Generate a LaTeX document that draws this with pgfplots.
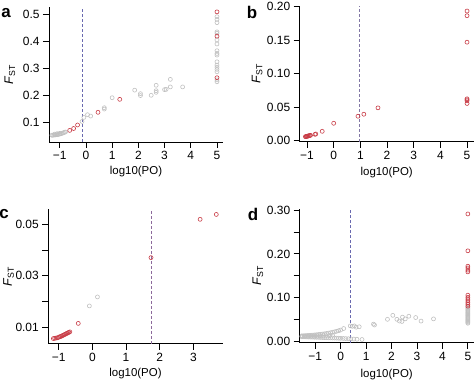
\documentclass[border=0pt]{standalone}
\usepackage{fontspec}
\setmainfont{Liberation Sans}
\usepackage{pgfplots}
\pgfplotsset{compat=1.18}
\definecolor{ptgray}{RGB}{192,192,192}
\definecolor{ptred}{RGB}{200,60,70}
\definecolor{dashcol}{RGB}{105,105,175}
\definecolor{dashcolb}{RGB}{130,120,165}
\definecolor{dashcolc}{RGB}{140,105,155}
\pgfplotsset{
  panel/.style={
    scale only axis, anchor=south west,
    axis lines*=left,
    axis line style={line width=0.8pt, black},
    tick align=outside, major tick length=6bp,
    every tick/.style={line width=0.8pt, black},
    tick label style={font=\fontsize{12}{14}\selectfont},
    xlabel style={font=\fontsize{11.5}{13}\selectfont},
    ylabel style={font=\fontsize{12.5}{14}\selectfont},
    /pgf/number format/assume math mode=true,
    scaled ticks=false,
    enlargelimits=false,
    xlabel={log10(PO)},
    ylabel={\textit{F}\textsubscript{ST}},
  },
  gpt/.style={only marks, mark=o, mark size=2bp, color=ptgray, mark options={line width=0.6pt}},
  rpt/.style={only marks, mark=o, mark size=2bp, color=ptred, mark options={line width=0.6pt}},
  vdash/.style={dash pattern=on 3bp off 2bp, line width=0.7pt},
}
\begin{document}
\begin{tikzpicture}
\path[use as bounding box] (0,0) rectangle (474bp,382bp);

% ---------- panel a ----------
\begin{axis}[panel, at={(49bp,240bp)}, width=174bp, height=135bp,
  xmin=-1.41, xmax=5.23, ymin=0.026, ymax=0.526,
  xtick={-1,0,1,2,3,4,5}, xticklabels={−1,0,1,2,3,4,5},
  ytick={0.1,0.2,0.3,0.4,0.5}, yticklabels={0.1,0.2,0.3,0.4,0.5},
  ylabel style={at={(axis description cs:-0.225,0.5)}, anchor=center},
  xlabel style={at={(axis description cs:0.5,-0.222)}, anchor=center}]
\addplot[gpt] coordinates {
(-1.30,0.051) (-1.26,0.051) (-1.22,0.052) (-1.18,0.052) (-1.14,0.053) (-1.10,0.053)
(-1.06,0.054) (-1.02,0.055) (-0.98,0.056) (-0.94,0.057) (-0.90,0.059) (-0.86,0.060)
(-0.82,0.062) (-0.78,0.063) (-1.20,0.055) (-1.10,0.057) (-1.00,0.058)
(-0.15,0.102) (-0.08,0.117) (0.06,0.127) (0.18,0.122) (0.70,0.148) (0.70,0.153)
(1.00,0.190) (1.86,0.218) (2.08,0.205) (2.08,0.198) (2.49,0.199) (2.68,0.236)
(2.68,0.216) (2.68,0.210) (3.00,0.220) (3.06,0.221) (3.22,0.258) (3.22,0.230) (3.69,0.230)
(5,0.490) (5,0.480) (5,0.468) (5,0.434) (5,0.429) (5,0.404) (5,0.389) (5,0.364)
(5,0.354) (5,0.348) (5,0.323) (5,0.311) (5,0.303) (5,0.295) (5,0.286) (5,0.256) (5,0.249)
};
\addplot[rpt] coordinates {
(-0.62,0.069) (-0.47,0.076) (-0.32,0.089) (0.46,0.136) (1.29,0.184)
(5,0.508) (5,0.418) (5,0.264)
};
\addplot[vdash, dashcol] coordinates {(-0.15,0.026) (-0.15,0.526)};
\end{axis}

% ---------- panel b ----------
\begin{axis}[panel, at={(299.7bp,240.3bp)}, width=174bp, height=135.7bp,
  xmin=-1.275, xmax=5.25, ymin=-0.0015, ymax=0.201,
  xtick={-1,0,1,2,3,4,5}, xticklabels={−1,0,1,2,3,4,5},
  ytick={0,0.05,0.1,0.15,0.2}, yticklabels={0.00,0.05,0.10,0.15,0.20},
  ylabel style={at={(axis description cs:-0.245,0.5)}, anchor=center},
  xlabel style={at={(axis description cs:0.5,-0.23)}, anchor=center}]
\addplot[rpt] coordinates {
(-1.06,0.006) (-1.04,0.006) (-1.02,0.0065) (-1.00,0.0065) (-0.98,0.007) (-0.95,0.007)
(-0.92,0.0075) (-0.89,0.008) (-0.87,0.008) (-0.70,0.0095) (-0.67,0.010) (-0.43,0.014)
(0.00,0.026) (0.91,0.0365) (1.13,0.0395) (1.66,0.049)
(5,0.1935) (5,0.1865) (5,0.147) (5,0.0625) (5,0.061) (5,0.0595) (5,0.0555)
};
\addplot[vdash, dashcolb] coordinates {(0.95,-0.0015) (0.95,0.201)};
\end{axis}

% ---------- panel c ----------
\begin{axis}[panel, at={(48.3bp,38.3bp)}, width=174.4bp, height=134.4bp,
  xmin=-1.31, xmax=3.87, ymin=0.0035, ymax=0.0558,
  xtick={-1,0,1,2,3}, xticklabels={−1,0,1,2,3},
  ytick={0.01,0.02,0.03,0.04,0.05}, yticklabels={0.01,,0.03,,0.05},
  ylabel style={at={(axis description cs:-0.228,0.5)}, anchor=center},
  xlabel style={at={(axis description cs:0.5,-0.225)}, anchor=center}]
\addplot[gpt] coordinates {(-0.09,0.0182) (0.15,0.0217)};
\addplot[rpt] coordinates {
(-1.16,0.0055) (-1.12,0.0056) (-1.08,0.0057) (-1.04,0.0058) (-1.00,0.0060) (-0.97,0.0062)
(-0.94,0.0063) (-0.91,0.0065) (-0.88,0.0067) (-0.85,0.0069) (-0.82,0.0071) (-0.79,0.0073)
(-0.76,0.0075) (-0.73,0.0077) (-0.70,0.0079) (-0.67,0.0081)
(-0.42,0.0114) (1.74,0.0370) (3.20,0.0519) (3.68,0.0538)
};
\addplot[vdash, dashcolc] coordinates {(1.76,0.0035) (1.76,0.0558)};
\end{axis}

% ---------- panel d ----------
\begin{axis}[panel, at={(299.7bp,39.3bp)}, width=174bp, height=133.4bp,
  xmin=-1.61, xmax=5.23, ymin=-0.0023, ymax=0.3016,
  xtick={-1,0,1,2,3,4,5}, xticklabels={−1,0,1,2,3,4,5},
  ytick={0,0.05,0.1,0.15,0.2,0.25,0.3}, yticklabels={0.00,,0.10,,0.20,,0.30},
  ylabel style={at={(axis description cs:-0.24,0.5)}, anchor=center},
  xlabel style={at={(axis description cs:0.5,-0.236)}, anchor=center}]
\addplot[gpt] coordinates {
(-1.52,0.0135) (-1.44,0.0137) (-1.36,0.0140) (-1.28,0.0143) (-1.20,0.0146) (-1.12,0.0150)
(-1.04,0.0154) (-0.96,0.0158) (-0.88,0.0163) (-0.80,0.0168) (-0.72,0.0174) (-0.64,0.0180)
(-0.56,0.0187) (-0.48,0.0195) (-0.40,0.0204) (-0.32,0.0214) (-0.24,0.0225) (-0.16,0.0237)
(-0.08,0.0250) (0.00,0.0265) (0.12,0.0300)
(-1.52,0.0110) (-1.44,0.0110) (-1.36,0.0108) (-1.28,0.0107) (-1.20,0.0105) (-1.12,0.0104)
(-1.04,0.0102) (-0.96,0.0100) (-0.88,0.0099) (-0.80,0.0097) (-0.72,0.0095) (-0.64,0.0093)
(-0.56,0.0091) (-0.48,0.0089) (-0.40,0.0087) (-0.32,0.0085) (-0.24,0.0083) (-0.16,0.0081)
(-0.08,0.0079) (0.00,0.0077) (0.10,0.0074) (0.20,0.0071) (0.30,0.0068) (0.40,0.0065)
(0.52,0.0060) (0.64,0.0056) (0.84,0.0050)
(-1.52,0.0122) (-1.40,0.0124) (-1.28,0.0125) (-1.16,0.0126) (-1.04,0.0128) (-0.92,0.0130)
(-0.80,0.0132) (-0.68,0.0135) (-0.56,0.0138) (-0.44,0.0140) (-0.32,0.0145)
(0.38,0.036) (0.46,0.035) (0.54,0.036) (0.61,0.033) (0.73,0.034) (1.29,0.040) (1.33,0.038)
(1.84,0.051) (2.05,0.060) (2.21,0.051) (2.31,0.047) (2.41,0.046) (2.43,0.056) (2.54,0.052)
(2.68,0.058) (2.95,0.055) (3.16,0.047) (3.65,0.052)
(5,0.042) (5,0.044) (5,0.046) (5,0.048) (5,0.050) (5,0.052) (5,0.054) (5,0.056) (5,0.058)
(5,0.060) (5,0.062) (5,0.064) (5,0.066) (5,0.068) (5,0.070) (5,0.072) (5,0.074) (5,0.076)
(5,0.078) (5,0.080)
};
\addplot[rpt] coordinates {
(5,0.291) (5,0.207) (5,0.172) (5,0.168) (5,0.163) (5,0.159)
(5,0.106) (5,0.101) (5,0.097) (5,0.093) (5,0.089) (5,0.085) (5,0.081)
};
\addplot[vdash, dashcol] coordinates {(0.39,-0.0023) (0.39,0.3016)};
\end{axis}

\node[font=\bfseries\fontsize{17}{17}\selectfont] at (6bp,369bp) {a};
\node[font=\bfseries\fontsize{17}{17}\selectfont] at (252bp,370bp) {b};
\node[font=\bfseries\fontsize{17}{17}\selectfont] at (4bp,168bp) {c};
\node[font=\bfseries\fontsize{17}{17}\selectfont] at (253bp,168bp) {d};
\end{tikzpicture}
\end{document}
